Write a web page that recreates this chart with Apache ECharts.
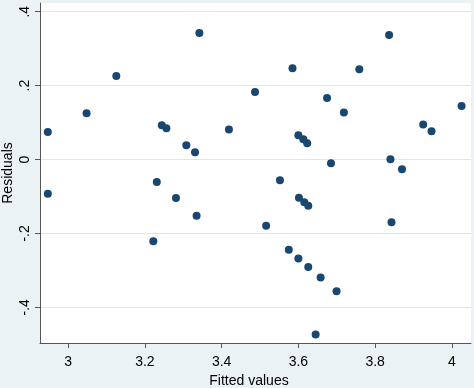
<!DOCTYPE html>
<html>
<head>
<meta charset="utf-8">
<script src="https://cdn.jsdelivr.net/npm/echarts@6/dist/echarts.min.js"></script>
<style>html,body{margin:0;padding:0;background:#eaf2f3;}#c{width:474px;height:388px;}</style>
</head>
<body>
<div id="c"></div>
<script>
const fittedValues = [2.947, 2.947, 3.048, 3.1255, 3.244, 3.256, 3.231, 3.222, 3.342, 3.308, 3.3306, 3.281, 3.3347, 3.419, 3.487, 3.516, 3.552, 3.575, 3.5847, 3.600, 3.613, 3.623, 3.6015, 3.6155, 3.6258, 3.600, 3.6258, 3.658, 3.6995, 3.645, 3.6747, 3.7186, 3.685, 3.7588, 3.8365, 3.840, 3.870, 3.8427, 3.9253, 3.947, 4.0253];
const residuals = [0.0746, -0.0926, 0.125, 0.226, 0.0927, 0.0846, -0.061, -0.2215, 0.342, 0.0386, 0.0197, -0.104, -0.152, 0.081, 0.1827, -0.179, -0.0564, -0.2445, 0.247, 0.0657, 0.0549, 0.044, -0.1035, -0.1155, -0.125, -0.268, -0.291, -0.3196, -0.3563, -0.4737, 0.1665, 0.127, -0.0101, 0.2443, 0.3367, 0.0008, -0.0264, -0.170, 0.0946, 0.0765, 0.1449];
const xTicks = [3, 3.2, 3.4, 3.6, 3.8, 4];
const yTicks = [-0.4, -0.2, 0, 0.2, 0.4];
const xTitle = 'Fitted values';
const yTitle = 'Residuals';

const points = fittedValues.map((x, i) => [x, residuals[i]]);
const fmtY = v => v === 0 ? '0' : String(v).replace('0.', '.');
const font = 'Liberation Sans, Arial, sans-serif';

const chart = echarts.init(document.getElementById('c'));
chart.setOption({
  backgroundColor: '#eaf2f3',
  animation: false,
  grid: { left: 40, right: 3, top: 3, bottom: 45, show: true, backgroundColor: '#ffffff', borderWidth: 0, containLabel: false, outerBoundsMode: 'none' },
  xAxis: {
    type: 'value', min: 2.9266, max: 4.0499,
    name: xTitle, nameLocation: 'middle', nameGap: 31, nameMoveOverlap: false,
    nameTextStyle: { fontFamily: font, fontSize: 14, color: '#000', padding: [0, 13, 0, 0] },
    axisLine: { show: true, onZero: false, lineStyle: { color: '#555', width: 1 } },
    axisTick: { show: true, length: 5, lineStyle: { color: '#555' }, customValues: xTicks },
    axisLabel: { customValues: xTicks, fontFamily: font, fontSize: 14, color: '#000', margin: 12, formatter: v => String(v) },
    splitLine: { show: false }
  },
  yAxis: [{
    type: 'value', min: -0.4966, max: 0.4235,
    name: yTitle, nameLocation: 'middle', nameGap: 25, nameMoveOverlap: false,
    nameTextStyle: { fontFamily: font, fontSize: 14, color: '#000' },
    axisLine: { show: true, onZero: false, lineStyle: { color: '#555', width: 1 } },
    axisTick: { show: true, length: 5, lineStyle: { color: '#555' }, customValues: yTicks },
    axisLabel: { show: false, customValues: yTicks },
    splitLine: { show: true, lineStyle: { color: '#dfe6ea', width: 1 } }
  }, {
    type: 'value', min: -0.4966, max: 0.4235, position: 'left',
    axisLine: { show: false, onZero: false }, axisTick: { show: false }, splitLine: { show: false },
    axisLabel: { customValues: yTicks, rotate: 90, verticalAlign: 'bottom', align: 'center', fontFamily: font, fontSize: 14, color: '#000', margin: 8, formatter: fmtY }
  }],
  series: [{
    type: 'scatter', data: points, symbolSize: 8,
    itemStyle: { color: '#1a476f', opacity: 1 }
  }]
});
</script>
</body>
</html>
